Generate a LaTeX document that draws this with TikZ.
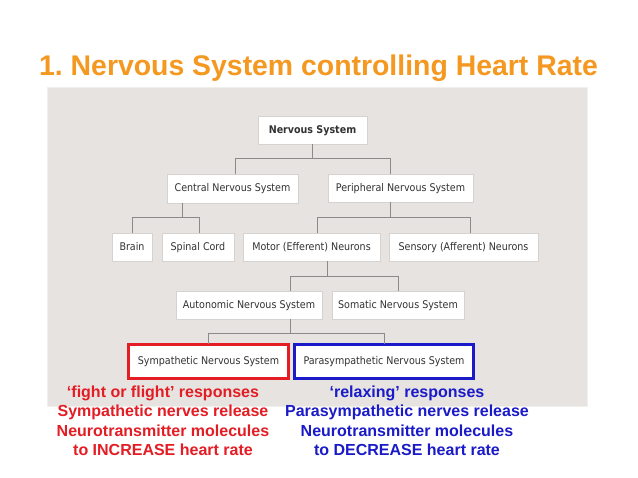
\documentclass[tikz,border=0pt]{standalone}
\usepackage{fontspec}
\setmainfont{Liberation Sans}
\newfontfamily\boxfam{DejaVu Sans Condensed}
\frenchspacing
\definecolor{titleorange}{RGB}{244,152,32}
\definecolor{bggray}{RGB}{231,227,224}
\definecolor{bgedge}{RGB}{242,240,238}
\definecolor{boxedge}{RGB}{214,210,207}
\definecolor{linegray}{RGB}{138,138,138}
\definecolor{symred}{RGB}{228,28,36}
\definecolor{parablue}{RGB}{26,26,200}
\definecolor{boxtext}{RGB}{50,50,50}
\begin{document}
\begin{tikzpicture}[x=1pt,y=-1pt,
  box/.style={fill=white,draw=boxedge,line width=0.6pt,inner sep=0pt,
    font=\boxfam\fontsize{10.6}{13}\selectfont,text=boxtext,minimum height=28pt,
    text height=7.6pt,text depth=1.4pt},
  conn/.style={draw=linegray,line width=1pt},
  redline/.style={font=\bfseries\fontsize{16}{19}\selectfont,text=symred,anchor=base,inner sep=0pt},
  blueline/.style={font=\bfseries\fontsize{16}{19}\selectfont,text=parablue,anchor=base,inner sep=0pt}]
\useasboundingbox (0,0) rectangle (638,478);
\fill[white] (0,0) rectangle (638,478);
% background panel
\fill[bggray] (47,87) rectangle (588,407);
\draw[bgedge,line width=1pt] (47.5,87.5) rectangle (587.5,406.5);
% title
\node[anchor=base,inner sep=0pt,text=titleorange,font=\bfseries\fontsize{28.4}{32}\selectfont] (title) at (318.5,76) {1. Nervous System controlling Heart Rate};
% boxes
\node[box,minimum width=109pt,font=\boxfam\bfseries\fontsize{10.6}{13}\selectfont] (NS) at (312.5,130) {Nervous System};
\node[box,minimum width=131pt,minimum height=29pt] (CNS) at (232.5,188.5) {Central Nervous System};
\node[box,minimum width=145pt] (PNS) at (400.5,188) {Peripheral Nervous System};
\node[box,minimum width=40pt] (brain) at (132,247) {Brain};
\node[box,minimum width=72pt] (spinal) at (198,247) {Spinal Cord};
\node[box,minimum width=137pt] (motor) at (311.5,247) {Motor (Efferent) Neurons};
\node[box,minimum width=149pt] (sensory) at (463.5,247) {Sensory (Afferent) Neurons};
\node[box,minimum width=146pt] (auto) at (249,305) {Autonomic Nervous System};
\node[box,minimum width=132pt] (somatic) at (398,305) {Somatic Nervous System};
\node[box,draw=symred,line width=3pt,minimum width=160pt,minimum height=34pt] (symp) at (208.5,361.5) {Sympathetic Nervous System};
\node[box,draw=parablue,line width=3pt,minimum width=179pt,minimum height=34pt] (para) at (384,361.5) {Parasympathetic Nervous System};
% connectors
\draw[conn] (NS.south) -- ++(0,14) -| ([xshift=2.5pt]CNS.north);
\draw[conn] (NS.south) -- ++(0,14) -| ([xshift=-10.5pt]PNS.north);
\draw[conn] ([xshift=-50.5pt]CNS.south) -- ++(0,14) -| (brain.north);
\draw[conn] ([xshift=-50.5pt]CNS.south) -- ++(0,14) -| ([xshift=1pt]spinal.north);
\draw[conn] ([xshift=-10.5pt]PNS.south) -- ++(0,15) -| ([xshift=5.5pt]motor.north);
\draw[conn] ([xshift=-10.5pt]PNS.south) -- ++(0,15) -| ([xshift=6.5pt]sensory.north);
\draw[conn] ([xshift=15.5pt]motor.south) -- ++(0,15) -| ([xshift=41pt]auto.north);
\draw[conn] ([xshift=15.5pt]motor.south) -- ++(0,15) -| (somatic.north);
\draw[conn] ([xshift=41pt]auto.south) -- ++(0,14) -| ([yshift=-1.5pt]symp.north);
\draw[conn] ([xshift=41pt]auto.south) -- ++(0,14) -| ([yshift=-1.5pt]para.north);
% bottom texts
\node[redline] (r1) at (163,397.5) {‘fight or flight’ responses};
\node[redline] (r2) at (163,417) {Sympathetic nerves release};
\node[redline] (r3) at (163,436.5) {Neurotransmitter molecules};
\node[redline] (r4) at (163,456) {to INCREASE heart rate};
\node[blueline] (b1) at (407,397.5) {‘relaxing’ responses};
\node[blueline] (b2) at (407,417) {Parasympathetic nerves release};
\node[blueline] (b3) at (407,436.5) {Neurotransmitter molecules};
\node[blueline] (b4) at (407,456) {to DECREASE heart rate};
\end{tikzpicture}
\end{document}
